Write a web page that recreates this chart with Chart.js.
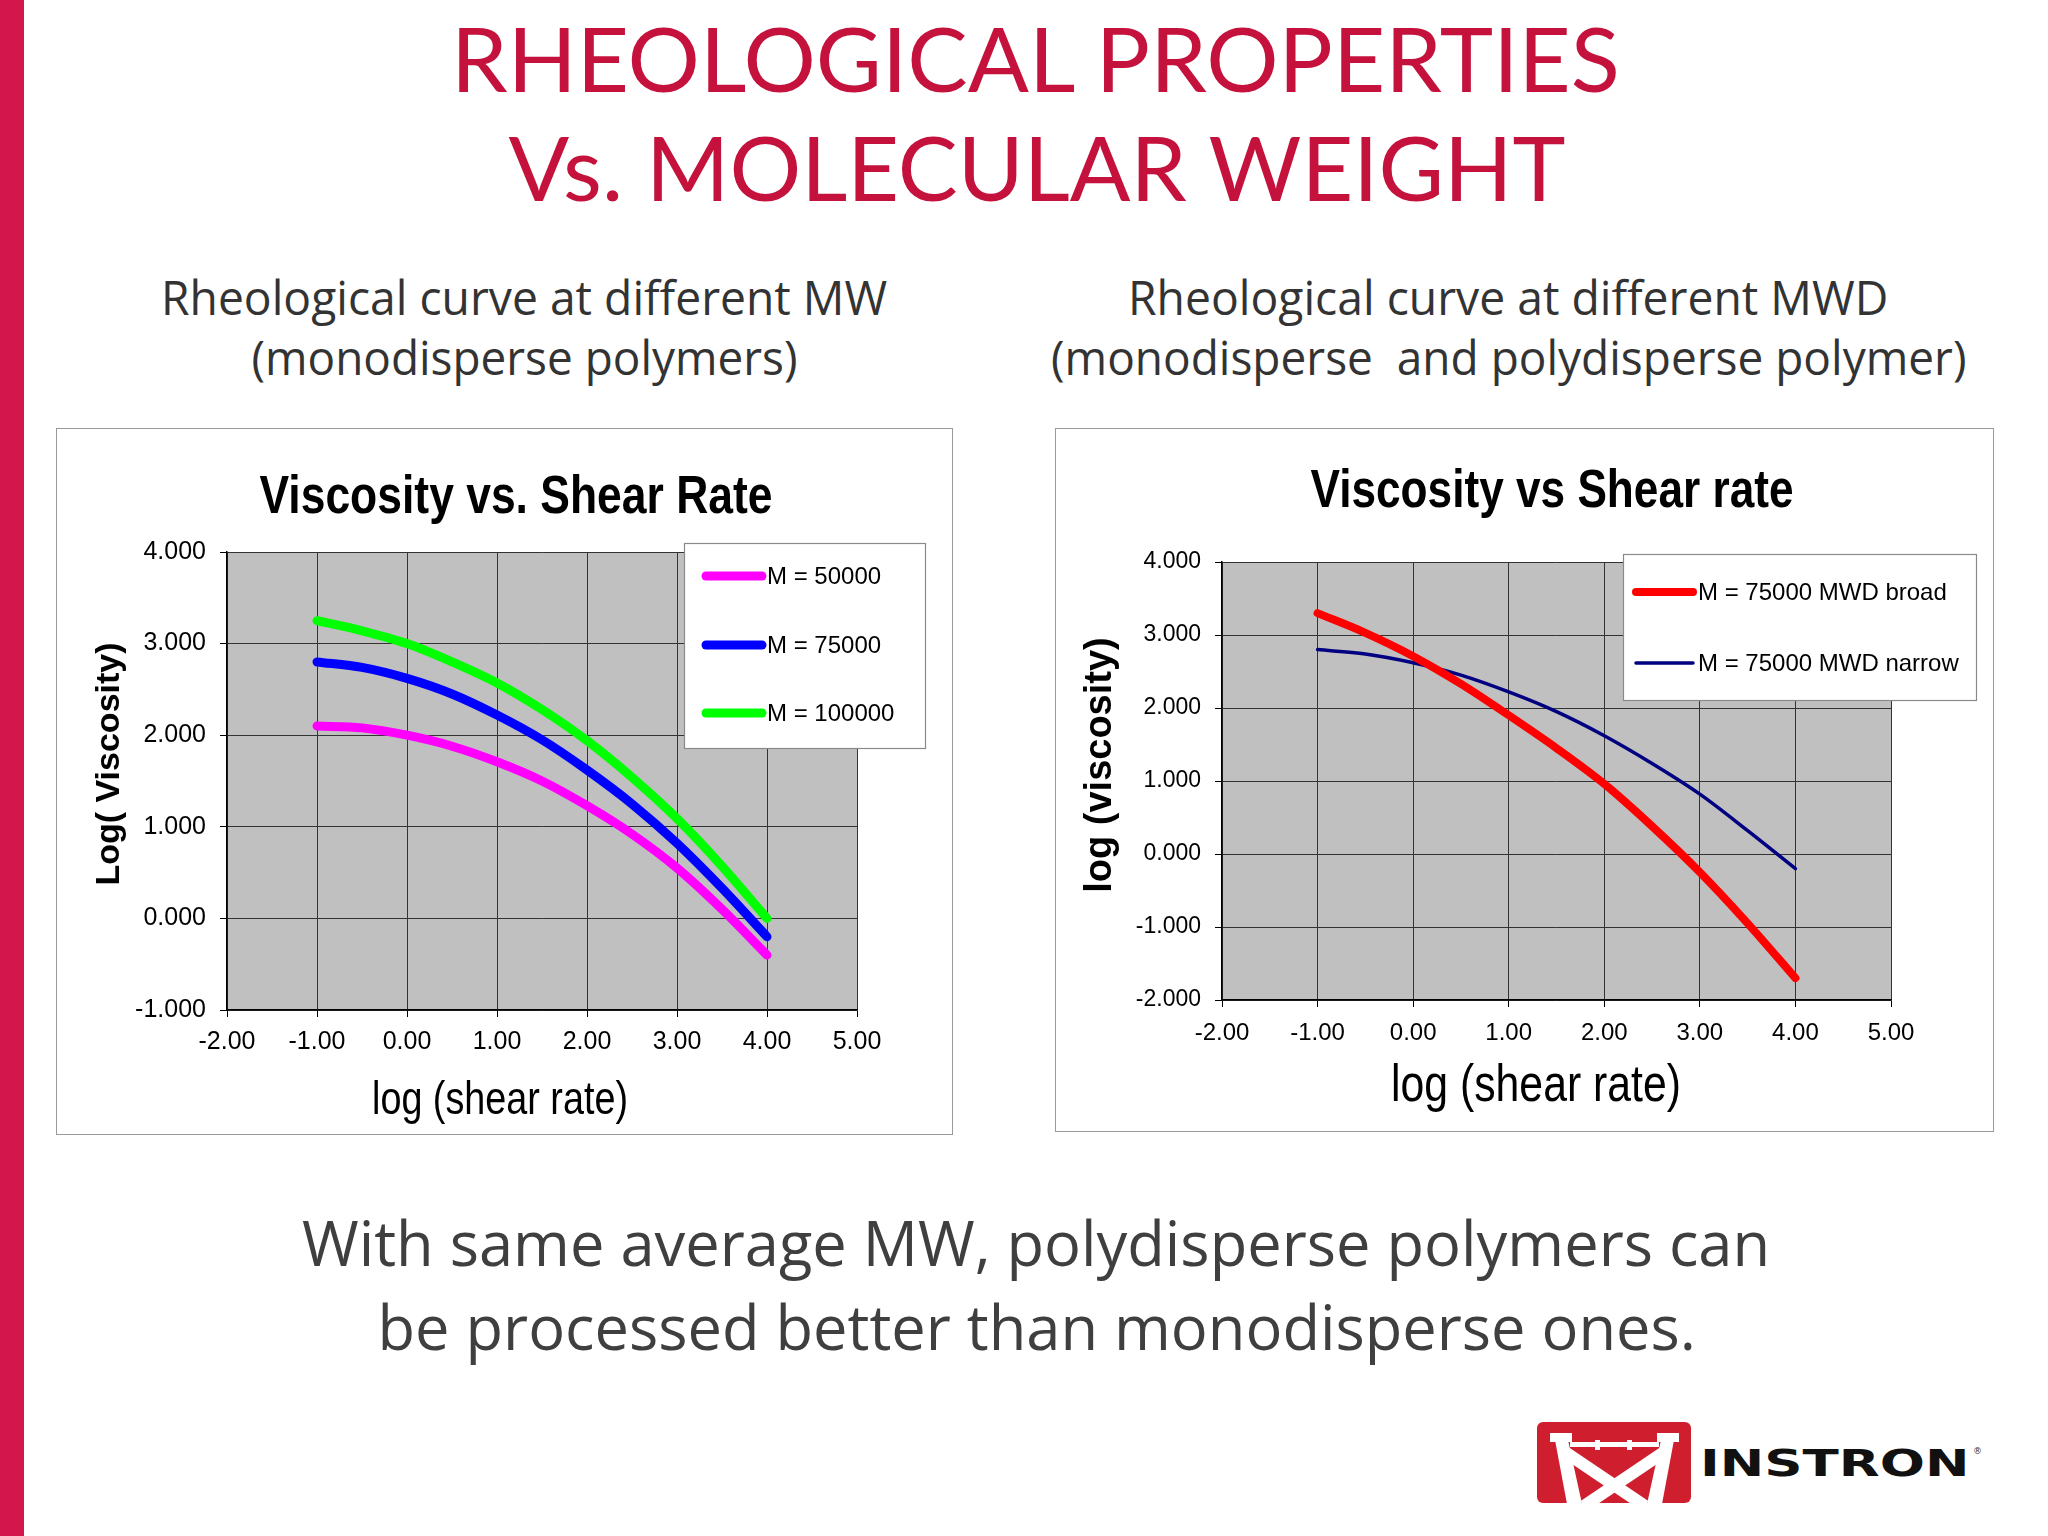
<!DOCTYPE html>
<html><head><meta charset="utf-8">
<script src="https://cdn.jsdelivr.net/npm/chart.js@4.4.1/dist/chart.umd.min.js"></script>
<style>
html,body{margin:0;padding:0;background:#fff;width:2048px;height:1536px;overflow:hidden;position:relative;}
.bar{position:absolute;left:0;top:0;width:24px;height:1536px;background:#D3164B;}
.t{position:absolute;white-space:nowrap;line-height:1;transform-origin:center center;}
.title{font-family:'Lato','Noto Sans',sans-serif;font-size:90px;color:#C4123D;}
.sub{font-family:'Open Sans','Noto Sans',sans-serif;font-size:47px;color:#333;}
.bottom{font-family:'Open Sans','Noto Sans',sans-serif;font-size:62px;color:#3f3f3f;}
.box{position:absolute;}
.frame{position:absolute;left:0;top:0;right:0;bottom:0;border:1.5px solid #9a9a9a;pointer-events:none;}
.logo{position:absolute;left:1537px;top:1422px;}
.brand{font-family:'DejaVu Sans',sans-serif;font-weight:bold;font-size:37px;color:#111;}
.reg{position:absolute;left:1973px;top:1446px;font-family:'DejaVu Sans',sans-serif;font-size:9px;color:#333;}
</style>
</head><body>
<div class="bar"></div>
<div class="t title" data-cx="1035" data-cy="57" data-w="1169">RHEOLOGICAL PROPERTIES</div>
<div class="t title" data-cx="1037" data-cy="166" data-w="1057">Vs. MOLECULAR WEIGHT</div>
<div class="t sub" data-cx="524" data-cy="297" data-w="726">Rheological curve at different MW</div>
<div class="t sub" data-cx="524" data-cy="357" data-w="546">(monodisperse polymers)</div>
<div class="t sub" data-cx="1508" data-cy="297" data-w="760">Rheological curve at different MWD</div>
<div class="t sub" data-cx="1508" data-cy="357" data-w="915">(monodisperse&nbsp; and polydisperse polymer)</div>

<div class="box" style="left:56px;top:428px;width:897px;height:707px;">
  <canvas id="c1" width="897" height="707"></canvas><div class="frame"></div>
</div>
<div class="box" style="left:1055px;top:428px;width:939px;height:704px;">
  <canvas id="c2" width="939" height="704"></canvas><div class="frame"></div>
</div>

<div class="t bottom" data-cx="1036" data-cy="1242" data-w="1468">With same average MW, polydisperse polymers can</div>
<div class="t bottom" data-cx="1036" data-cy="1326" data-w="1318">be processed better than monodisperse ones.</div>

<svg class="logo" width="154" height="81" viewBox="0 0 154 81">
  <defs><clipPath id="lc"><rect x="0" y="0" width="154" height="81" rx="6"/></clipPath></defs>
  <rect x="0" y="0" width="154" height="81" rx="6" fill="#CF1F2E"/>
  <g clip-path="url(#lc)" fill="#fff" stroke="#fff">
    <rect x="13" y="11" width="22" height="9" stroke="none"/>
    <rect x="120" y="11" width="22" height="9" stroke="none"/>
    <rect x="33" y="20" width="89" height="5" stroke="none"/>
    <rect x="58" y="18" width="5" height="10" stroke="none"/>
    <rect x="90" y="18" width="5" height="10" stroke="none"/>
    <polygon points="18,18 31,18 45,82 30,82" stroke="none"/>
    <polygon points="124,18 137,18 125,82 110,82" stroke="none"/>
    <line x1="25" y1="28" x2="108" y2="84" stroke-width="12"/>
    <line x1="130" y1="28" x2="47" y2="84" stroke-width="12"/>
  </g>
</svg>
<div class="t brand" data-cx="1835" data-cy="1463" data-w="270">INSTRON</div>
<div class="reg">®</div>

<script>
// ---------- data ----------
const shearLog = [-1, -0.5, 0, 0.5, 1, 1.5, 2, 2.5, 3, 3.5, 4];
const viscM50000  = [2.10, 2.08, 2.00, 1.88, 1.71, 1.50, 1.23, 0.92, 0.55, 0.10, -0.40];
const viscM75000  = [2.80, 2.74, 2.62, 2.45, 2.22, 1.95, 1.62, 1.25, 0.82, 0.33, -0.20];
const viscM100000 = [3.25, 3.14, 3.00, 2.80, 2.57, 2.28, 1.94, 1.54, 1.09, 0.57, 0.00];
const viscBroad   = [3.30, 3.03, 2.71, 2.33, 1.90, 1.45, 0.96, 0.38, -0.25, -0.95, -1.70];
const viscNarrow  = [2.80, 2.74, 2.62, 2.45, 2.22, 1.95, 1.62, 1.24, 0.82, 0.32, -0.20];
const leftSeriesLabels  = ['M = 50000', 'M = 75000', 'M = 100000'];
const rightSeriesLabels = ['M = 75000 MWD broad', 'M = 75000 MWD narrow'];
const leftChartTitle  = 'Viscosity vs. Shear Rate';
const rightChartTitle = 'Viscosity vs Shear rate';
const leftYTitle  = 'Log( Viscosity)';
const rightYTitle = 'log (viscosity)';
const xTitle = 'log (shear rate)';
const leftYRange  = [-1, 4];
const rightYRange = [-2, 4];
const xRange = [-2, 5];

// ---------- slide text fitting ----------
document.querySelectorAll('.t').forEach(el => {
  const w = el.offsetWidth, h = el.offsetHeight;
  const k = (+el.dataset.w) / w;
  el.style.left = (el.dataset.cx - w / 2) + 'px';
  el.style.top = (el.dataset.cy - h / 2) + 'px';
  el.style.transform = 'scaleX(' + k + ')';
});

// ---------- plugins ----------
const plotBg = { id: 'plotBg', beforeDraw(chart, args, o) {
  const a = chart.chartArea, ctx = chart.ctx;
  ctx.save(); ctx.fillStyle = o.color; ctx.fillRect(a.left, a.top, a.right - a.left, a.bottom - a.top); ctx.restore();
}};
// chart title and axis titles, placed like the reference (text condensed with maxWidth)
const boxTexts = { id: 'boxTexts', afterDraw(chart, args, o) {
  const ctx = chart.ctx;
  o.items.forEach(it => {
    ctx.save();
    ctx.translate(it.x, it.y); ctx.rotate(it.rot || 0);
    ctx.font = it.font; ctx.fillStyle = '#000'; ctx.textAlign = 'center'; ctx.textBaseline = 'middle';
    ctx.fillText(it.text, 0, 0, it.maxWidth);
    ctx.restore();
  });
}};
const boxLegend = { id: 'boxLegend', afterDraw(chart, args, o) {
  const ctx = chart.ctx;
  ctx.save();
  ctx.fillStyle = '#fff'; ctx.fillRect(o.x, o.y, o.w, o.h);
  ctx.strokeStyle = '#8a8a8a'; ctx.lineWidth = 1.2; ctx.strokeRect(o.x + 0.5, o.y + 0.5, o.w, o.h);
  chart.data.datasets.forEach((ds, i) => {
    const y = o.rows[i];
    ctx.strokeStyle = ds.borderColor; ctx.lineWidth = ds.borderWidth; ctx.lineCap = 'round';
    ctx.beginPath(); ctx.moveTo(o.lineX1, y); ctx.lineTo(o.lineX2, y); ctx.stroke();
    ctx.fillStyle = '#000'; ctx.font = o.font; ctx.textAlign = 'left'; ctx.textBaseline = 'middle';
    ctx.fillText(ds.label, o.textX, y + 1);
  });
  ctx.restore();
}};

function pts(ys) { return shearLog.map((x, i) => ({ x: x, y: ys[i] })); }
function ds(label, ys, color, width) {
  return { label, data: pts(ys), borderColor: color, backgroundColor: color, borderWidth: width,
           pointRadius: 0, cubicInterpolationMode: 'monotone', borderCapStyle: 'round', borderJoinStyle: 'round', fill: false };
}

const tickFont = 'Liberation Sans, Arial, sans-serif';
const condensed = "'Liberation Sans Narrow', 'Arial Narrow', 'Liberation Sans', sans-serif";

function makeChart(id, cfg) {
  return new Chart(document.getElementById(id), {
    type: 'line',
    data: { datasets: cfg.datasets },
    plugins: [plotBg, boxTexts, boxLegend],
    options: {
      responsive: false, animation: false, devicePixelRatio: 1,
      layout: { padding: { left: 0, top: cfg.padTop, right: cfg.padRight, bottom: 0 } },
      plugins: {
        legend: { display: false }, tooltip: { enabled: false },
        plotBg: { color: '#C0C0C0' },
        boxTexts: { items: cfg.texts },
        boxLegend: cfg.legend
      },
      scales: {
        x: {
          type: 'linear', min: xRange[0], max: xRange[1],
          afterFit(s) { s.height = cfg.xHeight; s.paddingLeft = 0; s.paddingRight = 0; },
          ticks: { stepSize: 1, autoSkip: false, maxRotation: 0, padding: cfg.xTickPad, color: '#000',
                   font: { family: tickFont, size: cfg.xTickSize }, callback: v => Number(v).toFixed(2) },
          grid: { color: '#333', lineWidth: 1, tickLength: 7, tickColor: '#000' },
          border: { color: '#000', width: 1.5 },
          title: { display: false }
        },
        y: {
          type: 'linear', min: cfg.yRange[0], max: cfg.yRange[1],
          afterFit(s) { s.width = cfg.yWidth; s.paddingTop = 0; s.paddingBottom = 0; },
          ticks: { stepSize: 1, autoSkip: false, padding: 14, color: '#000',
                   font: { family: tickFont, size: cfg.yTickSize }, callback: v => Number(v).toFixed(3) },
          grid: { color: '#333', lineWidth: 1, tickLength: 7, tickColor: '#000' },
          border: { color: '#000', width: 1.5 },
          title: { display: false }
        }
      }
    }
  });
}

makeChart('c1', {
  datasets: [
    ds(leftSeriesLabels[0], viscM50000, '#FF00FF', 9),
    ds(leftSeriesLabels[1], viscM75000, '#0000FF', 9),
    ds(leftSeriesLabels[2], viscM100000, '#00FF00', 9)
  ],
  padTop: 124, padRight: 96, yWidth: 171, xHeight: 125,
  yRange: leftYRange, yTickSize: 25, xTickSize: 25, xTickPad: 10,
  texts: [
    { text: leftChartTitle, x: 460, y: 70, maxWidth: 513, font: "bold 54px " + condensed },
    { text: xTitle, x: 444, y: 673, maxWidth: 256, font: "46px " + condensed },
    { text: leftYTitle, x: 54, y: 336, rot: -Math.PI / 2, maxWidth: 244, font: "bold 34px " + tickFont }
  ],
  legend: { x: 628, y: 115, w: 241, h: 205, rows: [148, 217, 285], lineX1: 650, lineX2: 706, textX: 711,
            font: "24px 'Liberation Sans', Arial, sans-serif" }
});

makeChart('c2', {
  datasets: [
    ds(rightSeriesLabels[0], viscBroad, '#FF0000', 8),
    ds(rightSeriesLabels[1], viscNarrow, '#000080', 3.5)
  ],
  padTop: 134, padRight: 103, yWidth: 167, xHeight: 132,
  yRange: rightYRange, yTickSize: 23, xTickSize: 24, xTickPad: 12,
  texts: [
    { text: rightChartTitle, x: 497, y: 64, maxWidth: 483, font: "bold 54px " + condensed },
    { text: xTitle, x: 481, y: 659, maxWidth: 290, font: "52px " + condensed },
    { text: rightYTitle, x: 46, y: 337, rot: -Math.PI / 2, maxWidth: 256, font: "bold 38px " + tickFont }
  ],
  legend: { x: 568, y: 126, w: 353, h: 146, rows: [164, 235], lineX1: 581, lineX2: 638, textX: 643,
            font: "24px 'Liberation Sans', Arial, sans-serif" }
});
</script>
</body></html>
